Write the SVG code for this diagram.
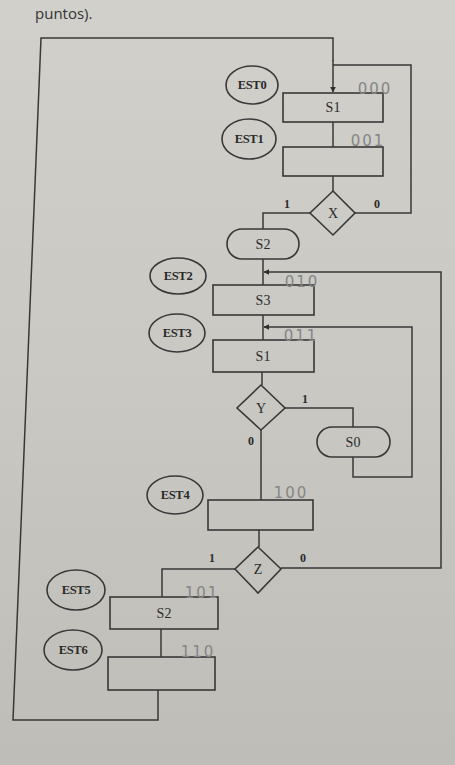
<svg xmlns="http://www.w3.org/2000/svg" width="455" height="765" viewBox="0 0 455 765">
<defs>
<linearGradient id="bg" x1="0" y1="0" x2="0" y2="1">
<stop offset="0" stop-color="#d1d0cb"/>
<stop offset="0.5" stop-color="#c9c8c3"/>
<stop offset="1" stop-color="#bebdb8"/>
</linearGradient>
<marker id="ah" viewBox="0 0 10 10" refX="9" refY="5" markerWidth="4" markerHeight="4" orient="auto">
<path d="M0,0 L10,5 L0,10 z" fill="#2e2e2e"/>
</marker>
</defs>
<style>
.ln{fill:none;stroke:#383838;stroke-width:1.5}
.bx{fill:none;stroke:#383838;stroke-width:1.6}
.t{font-family:"Liberation Serif",serif;font-size:14px;fill:#2a2a2a;text-anchor:middle}
.ts{font-family:"Liberation Serif",serif;font-size:12.5px;fill:#2a2a2a;text-anchor:middle;font-weight:bold;letter-spacing:-0.3px}
.h{font-family:"DejaVu Sans",sans-serif;font-size:15px;fill:#858585;text-anchor:middle;letter-spacing:2px}
.b{font-family:"Liberation Serif",serif;font-size:12px;fill:#2a2a2a;text-anchor:middle;font-weight:bold}
</style>
<rect width="455" height="765" fill="url(#bg)"/>
<text x="35" y="19" font-family="Open Sans, sans-serif" font-size="15" fill="#333">puntos).</text>

<g id="connectors">
<polyline class="ln" points="158,690 158,720 13,720 41,38 333,38 333,61"/>
<polyline class="ln" points="333,60 333,92" marker-end="url(#ah)"/>
<polyline class="ln" points="355,213 411,213 411,65 333,65"/>
<line class="ln" x1="333" y1="122" x2="333" y2="147"/>
<line class="ln" x1="333" y1="176" x2="333" y2="191"/>
<polyline class="ln" points="310,213 263,213 263,229"/>
<line class="ln" x1="263" y1="259" x2="263" y2="285"/>
<polyline class="ln" points="281,568 441,568 441,272 264,272" marker-end="url(#ah)"/>
<line class="ln" x1="263" y1="315" x2="263" y2="340"/>
<polyline class="ln" points="353,457 353,477 412,477 412,327 264,327" marker-end="url(#ah)"/>
<line class="ln" x1="262" y1="372" x2="262" y2="385"/>
<polyline class="ln" points="285,408 353,408 353,427"/>
<line class="ln" x1="261" y1="430" x2="261" y2="500"/>
<line class="ln" x1="259" y1="530" x2="259" y2="547"/>
<polyline class="ln" points="235,569 162,569 162,597"/>
<line class="ln" x1="161" y1="629" x2="161" y2="657"/>
<text class="b" x="287" y="208">1</text>
<text class="b" x="377" y="208">0</text>
<text class="b" x="305" y="403">1</text>
<text class="b" x="251" y="445">0</text>
<text class="b" x="212" y="562">1</text>
<text class="b" x="303" y="562">0</text>
</g>

<g id="est0"><ellipse class="bx" cx="252" cy="85" rx="26" ry="19"/><text class="ts" x="252" y="89">EST0</text></g>
<g id="s1a"><rect class="bx" x="283" y="93" width="100" height="29"/><text class="t" x="333" y="112">S1</text><text class="h" x="375" y="94">000</text></g>
<g id="est1"><ellipse class="bx" cx="249" cy="139" rx="27" ry="20"/><text class="ts" x="249" y="143">EST1</text></g>
<g id="box1"><rect class="bx" x="283" y="147" width="100" height="29"/><text class="h" x="368" y="146">001</text></g>
<g id="dx"><polygon class="bx" points="333,191 355,213 333,235 310,213"/><text class="t" x="333" y="218">X</text></g>
<g id="s2a"><rect class="bx" x="227" y="229" width="72" height="30" rx="15"/><text class="t" x="263" y="249">S2</text></g>
<g id="est2"><ellipse class="bx" cx="178" cy="276" rx="28" ry="18"/><text class="ts" x="178" y="280">EST2</text></g>
<g id="s3"><rect class="bx" x="213" y="285" width="101" height="30"/><text class="t" x="263" y="305">S3</text><text class="h" x="302" y="287">010</text></g>
<g id="est3"><ellipse class="bx" cx="177" cy="333" rx="28" ry="19"/><text class="ts" x="177" y="337">EST3</text></g>
<g id="s1b"><rect class="bx" x="213" y="340" width="101" height="32"/><text class="t" x="263" y="361">S1</text><text class="h" x="301" y="341">011</text></g>
<g id="dy"><polygon class="bx" points="261,385 285,408 261,430 237,408"/><text class="t" x="261" y="413">Y</text></g>
<g id="s0"><rect class="bx" x="317" y="427" width="73" height="30" rx="15"/><text class="t" x="353" y="447">S0</text></g>
<g id="est4"><ellipse class="bx" cx="175" cy="495" rx="28" ry="19"/><text class="ts" x="175" y="499">EST4</text></g>
<g id="box4"><rect class="bx" x="208" y="500" width="105" height="30"/><text class="h" x="291" y="498">100</text></g>
<g id="dz"><polygon class="bx" points="258,547 281,569 258,593 235,569"/><text class="t" x="258" y="574">Z</text></g>
<g id="est5"><ellipse class="bx" cx="76" cy="590" rx="29" ry="20"/><text class="ts" x="76" y="594">EST5</text></g>
<g id="s2b"><rect class="bx" x="110" y="597" width="108" height="32"/><text class="t" x="164" y="618">S2</text><text class="h" x="202" y="598">101</text></g>
<g id="est6"><ellipse class="bx" cx="73" cy="650" rx="29" ry="20"/><text class="ts" x="73" y="654">EST6</text></g>
<g id="box6"><rect class="bx" x="108" y="657" width="107" height="33"/><text class="h" x="198" y="657">110</text></g>
</svg>
